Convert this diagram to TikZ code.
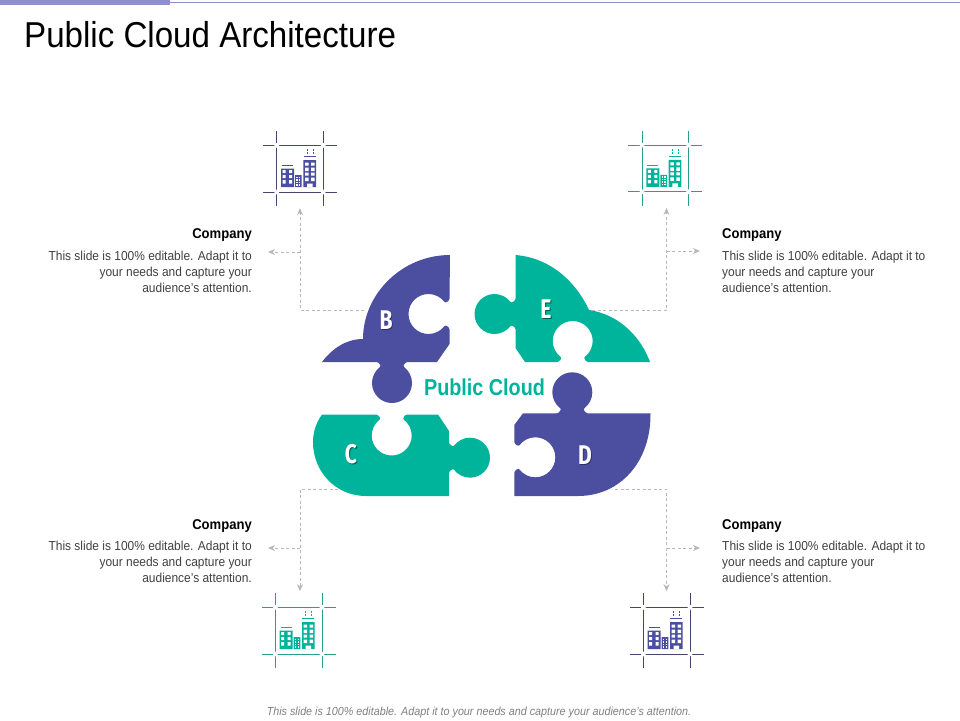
\documentclass[tikz,border=0pt]{standalone}
\usepackage{fontspec}
\setmainfont{Liberation Sans}[FakeStretch=0.92]
\newfontfamily\letterfont{Fira Sans}[FakeStretch=0.78]
\newfontfamily\centrefont{Liberation Sans}[FakeStretch=0.86]
\usetikzlibrary{arrows.meta}
\definecolor{purp}{HTML}{4C4FA0}
\definecolor{teal2}{HTML}{00B39B}
\definecolor{tealframe}{HTML}{2A9D8F}
\definecolor{topbar}{HTML}{9090C8}
\definecolor{dashgrey}{HTML}{B8B8B8}
\definecolor{bodygrey}{HTML}{404040}
\definecolor{footgrey}{HTML}{808080}
\definecolor{navy}{HTML}{45466E}
\newcommand\Bump[5]{%
 -- ({#1+#3*(-21)-#4*#5*(15.5)},{#2+#4*(-21)+#3*#5*(15.5)})
 .. controls ({#1+#3*(-21)-#4*#5*(13.5)},{#2+#4*(-21)+#3*#5*(13.5)}) and ({#1+#3*(-17.2)-#4*#5*(10.4)},{#2+#4*(-17.2)+#3*#5*(10.4)}) .. ({#1+#3*(-16)-#4*#5*(12)},{#2+#4*(-16)+#3*#5*(12)})
 .. controls ({#1+#3*(-12.2)-#4*#5*(17)},{#2+#4*(-12.2)+#3*#5*(17)}) and ({#1+#3*(-6.28)-#4*#5*(20)},{#2+#4*(-6.28)+#3*#5*(20)}) .. ({#1-#4*#5*(20)},{#2+#3*#5*(20)})
 .. controls ({#1+#3*(11.05)-#4*#5*(20)},{#2+#4*(11.05)+#3*#5*(20)}) and ({#1+#3*(20)-#4*#5*(11.05)},{#2+#4*(20)+#3*#5*(11.05)}) .. ({#1+#3*(20)},{#2+#4*(20)})
 .. controls ({#1+#3*(20)-#4*#5*(-11.05)},{#2+#4*(20)+#3*#5*(-11.05)}) and ({#1+#3*(11.05)-#4*#5*(-20)},{#2+#4*(11.05)+#3*#5*(-20)}) .. ({#1-#4*#5*(-20)},{#2+#3*#5*(-20)})
 .. controls ({#1+#3*(-6.28)-#4*#5*(-20)},{#2+#4*(-6.28)+#3*#5*(-20)}) and ({#1+#3*(-12.2)-#4*#5*(-17)},{#2+#4*(-12.2)+#3*#5*(-17)}) .. ({#1+#3*(-16)-#4*#5*(-12)},{#2+#4*(-16)+#3*#5*(-12)})
 .. controls ({#1+#3*(-17.2)-#4*#5*(-10.4)},{#2+#4*(-17.2)+#3*#5*(-10.4)}) and ({#1+#3*(-21)-#4*#5*(-13.5)},{#2+#4*(-21)+#3*#5*(-13.5)}) .. ({#1+#3*(-21)-#4*#5*(-15.5)},{#2+#4*(-21)+#3*#5*(-15.5)})
}
\newcommand\CityIcon[5]{% name, cx, cy, frame colour, building colour
 \node[iconbox] (#1) at (#2,#3) {};
 \begin{scope}[shift={(#2,#3)}]
  \draw[#4,line width=.9pt] (-37,-23.3)--(37,-23.3) (-37,23.3)--(37,23.3) (-23.3,-37.5)--(-23.3,37.5) (23.3,-37.5)--(23.3,37.5);
  \foreach \x in {-23.3,23.3} \foreach \y in {-23.3,23.3} \fill[white] (\x,\y) circle[radius=2.4];
  \fill[#5] (-19,0) rectangle (-6,18.5) (-5,6.5) rectangle (1.7,18.5) (3.3,-8.5) rectangle (16,18.5);
  \draw[#5,line width=1pt] (-18,-2.8)--(-7,-2.8) (3.6,-12)--(15.7,-12);
  \draw[#5,line width=.9pt] (7,-19.5)--(7,-17.5) (7,-16.5)--(7,-14.5) (13,-19.5)--(13,-17.5) (13,-16.5)--(13,-14.5);
  \fill[white] (-17.5,1.5) rectangle (-14.5,4.5) (-11,1.5) rectangle (-8,4.5)
   (-17.5,6.5) rectangle (-14.5,9.5) (-11,6.5) rectangle (-8,9.5)
   (-17.5,11.5) rectangle (-14.5,15) (-11,11.5) rectangle (-8,15)
   (5,-6) rectangle (8.5,-3) (11,-6) rectangle (14.5,-3)
   (5,-1) rectangle (8.5,2.5) (11,-1) rectangle (14.5,2.5)
   (5,4) rectangle (8.5,7) (11,4) rectangle (14.5,7)
   (5,9) rectangle (8.5,12.5) (11,9) rectangle (14.5,12.5)
   (7,15) rectangle (12.5,18.5);
  \foreach \x in {-3.8,-1.1} \foreach \y in {8,10.5,13,15.5} \fill[white] (\x,\y) rectangle ++(1.5,1.4);
 \end{scope}
}
\tikzset{
 x=1pt,y=-1pt,
 iconbox/.style={inner sep=0pt,outer sep=0pt,minimum width=80pt,minimum height=79pt},
 conn/.style={draw=dashgrey,line width=.8pt,dash pattern=on 3pt off 2.5pt},
 arrowed/.style={conn,-{Stealth[length=7pt,width=6pt,fill=dashgrey]}},
 head/.style={inner sep=0pt,font=\bfseries\fontsize{14.2}{16}\selectfont,text=black},
 bodyR/.style={inner sep=0pt,align=right,text=bodygrey,font=\fontsize{13}{16}\selectfont},
 bodyL/.style={inner sep=0pt,align=left,text=bodygrey,font=\fontsize{13}{16}\selectfont},
 letter/.style={inner sep=0pt,text=white,font=\letterfont\bfseries\fontsize{27}{27}\selectfont},
 shade/.style={inner sep=0pt,font=\letterfont\bfseries\fontsize{27}{27}\selectfont},
}
\begin{document}
\begin{tikzpicture}
\useasboundingbox (0,0) rectangle (960,720);
% top rule
\fill[topbar] (0,0) rectangle (170,4.5);
\draw[topbar,line width=1pt] (170,2.3)--(960,2.3);
\node[anchor=west,inner sep=0pt,font=\fontsize{36}{40}\selectfont] (title) at (24,35) {Public Cloud Architecture};
% puzzle pieces
\fill[purp] (450,255) .. controls (402,255) and (363,294) .. (363,339)
 .. controls (345,339) and (331,350) .. (322,362)
 \Bump{392}{383}{0}{1}{1} -- (437,362) -- (449.5,344)
 \Bump{428.5}{314}{-1}{0}{-1} -- cycle;
\fill[teal2] (515.5,255)
 \Bump{494.5}{314}{-1}{0}{1} -- (515.5,348) -- (525,362)
 \Bump{572.7}{341}{0}{-1}{-1} -- (650,362)
 .. controls (642,340) and (622,315) .. (589,310)
 .. controls (576,282) and (551,258) .. cycle;
\fill[teal2] (322,414.5) .. controls (316,423) and (313,432) .. (313,442)
 .. controls (313,472) and (336,496) .. (366,496) -- (449,496)
 \Bump{470}{457.7}{1}{0}{1} -- (449,431) -- (438,414.5)
 \Bump{391.7}{435.5}{0}{1}{-1} -- cycle;
\fill[purp] (650.5,413.3)
 \Bump{572.3}{392.3}{0}{-1}{1} -- (523,413.3) -- (514.3,425)
 \Bump{535.3}{457.3}{1}{0}{-1} -- (514.3,496) -- (578,496)
 .. controls (620,496) and (651,462) .. cycle;
% piece letters
\node[shade,text=purp!60!black] at (386.8,320.8) {B};
\node[letter] (lb) at (386,320) {B};
\node[shade,text=teal2!50!black] at (546.8,309.8) {E};
\node[letter] (le) at (546,309) {E};
\node[shade,text=teal2!50!black] at (351.8,454.8) {C};
\node[letter] (lc) at (351,454) {C};
\node[shade,text=purp!60!black] at (585.8,455.8) {D};
\node[letter] (ld) at (585,455) {D};
\node[inner sep=0pt,text=teal2,font=\centrefont\bfseries\fontsize{23}{26}\selectfont] (pc) at (484.5,387) {Public Cloud};
% icons
\CityIcon{i1}{300}{168.7}{navy}{purp}
\CityIcon{i2}{665.3}{168.4}{tealframe}{teal2}
\CityIcon{i3}{298.7}{630.7}{tealframe}{teal2}
\CityIcon{i4}{666.7}{630.7}{navy}{purp}
% connectors
\coordinate (pb) at (364,310); \coordinate (jb) at (300,252); \coordinate (tb) at (268,252);
\coordinate (pe) at (592,310); \coordinate (je) at (666.5,251); \coordinate (te) at (700,251);
\coordinate (pcc) at (338,489); \coordinate (jc) at (300,548); \coordinate (tc) at (268,548);
\coordinate (pd) at (615,489); \coordinate (jd) at (666.5,548); \coordinate (td) at (700,548);
\draw[arrowed] (pb) -| (jb |- i1.south);
\draw[arrowed] (jb) -- (tb);
\draw[arrowed] (pe) -| (je |- i2.south);
\draw[arrowed] (je) -- (te);
\draw[arrowed] (pcc) -| (jc |- i3.north);
\draw[arrowed] (jc) -- (tc);
\draw[arrowed] (pd) -| (jd |- i4.north);
\draw[arrowed] (jd) -- (td);
% texts
\node[head,anchor=east] (h1) at (252,235.5) {Company};
\node[bodyR,anchor=north east] (t1) at (252,250.5) {This slide is 100\% editable. Adapt it to\\your needs and capture your\\audience's attention.};
\node[head,anchor=west] (h2) at (722,235.5) {Company};
\node[bodyL,anchor=north west] (t2) at (722,250.5) {This slide is 100\% editable. Adapt it to\\your needs and capture your\\audience's attention.};
\node[head,anchor=east] (h3) at (252,526.5) {Company};
\node[bodyR,anchor=north east] (t3) at (252,541) {This slide is 100\% editable. Adapt it to\\your needs and capture your\\audience's attention.};
\node[head,anchor=west] (h4) at (722,526.5) {Company};
\node[bodyL,anchor=north west] (t4) at (722,541) {This slide is 100\% editable. Adapt it to\\your needs and capture your\\audience's attention.};
\node[inner sep=0pt,text=footgrey,font=\itshape\fontsize{11.7}{13}\selectfont] (foot) at (479,712) {This slide is 100\% editable. Adapt it to your needs and capture your audience's attention.};
\end{tikzpicture}
\end{document}
